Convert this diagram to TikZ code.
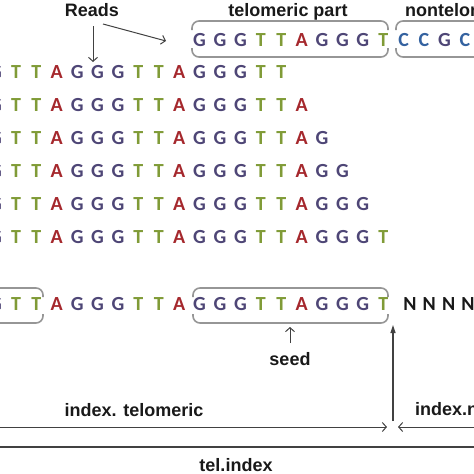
\documentclass[tikz,border=0pt]{standalone}
\usepackage{fontspec}
\setmainfont{Liberation Sans}
\newfontfamily\seqfont{Carlito}
\usetikzlibrary{arrows.meta}
\definecolor{colG}{RGB}{78,70,118}
\definecolor{colT}{RGB}{128,155,55}
\definecolor{colA}{RGB}{165,40,45}
\definecolor{colC}{RGB}{52,98,160}
\definecolor{colN}{RGB}{25,25,25}
\definecolor{brk}{RGB}{150,150,150}
\definecolor{arrc}{RGB}{65,65,65}
\begin{document}
\begin{tikzpicture}[x=1pt,y=-1pt,
  nt/.style={font=\seqfont\bfseries\fontsize{20}{22}\selectfont, inner sep=0pt, anchor=base},
  lab/.style={font=\bfseries\fontsize{18}{20}\selectfont, inner sep=0pt, anchor=base, text=black!90},
  bracket/.style={draw=brk, line width=1.6pt, rounded corners=7pt},
  tip/.style={draw=arrc, line width=1pt, -{Straight Barb[length=4pt,width=9pt]}},
  rule/.style={draw=arrc, line width=1.2pt},
]
\useasboundingbox (0,0) rectangle (474,474);
\clip (0,0) rectangle (474,474);

% top row: telomeric + nontelomeric part
\foreach \ch [count=\i from 10] in {G,G,G,T,T,A,G,G,G,T,C,C,G,C} {
  \pgfmathsetmacro{\xx}{-4.4+20.4*\i}
  \node[nt, text=col\ch] (top-\i) at (\xx,46.5) {\ch};
}

% reads
\foreach \yy/\lst [count=\r] in {
  72/{G,T,T,A,G,G,G,T,T,A,G,G,G,T,T},
  105/{G,T,T,A,G,G,G,T,T,A,G,G,G,T,T,A},
  138/{G,T,T,A,G,G,G,T,T,A,G,G,G,T,T,A,G},
  171/{G,T,T,A,G,G,G,T,T,A,G,G,G,T,T,A,G,G},
  204/{G,T,T,A,G,G,G,T,T,A,G,G,G,T,T,A,G,G,G},
  237/{G,T,T,A,G,G,G,T,T,A,G,G,G,T,T,A,G,G,G,T},
  304/{G,T,T,A,G,G,G,T,T,A,G,G,G,T,T,A,G,G,G,T}} {
  \foreach \ch [count=\i from 0] in \lst {
    \pgfmathsetmacro{\xx}{-4.4+20.4*\i}
    \node[nt, text=col\ch] (s\r-\i) at (\xx,\yy+6.5) {\ch};
  }
}
\foreach \k in {0,1,2,3} {
  \node[nt, text=colN] (n-\k) at (410+19.3*\k,310.5) {N};
}

% brackets
\draw[bracket] (192,30) -- (192,21) -- (388,21) -- (388,30);
\draw[bracket] (192,48) -- (192,57) -- (388,57) -- (388,48);
\draw[bracket] (396,30) -- (396,21) -- (490,21) -- (490,30);
\draw[bracket] (396,48) -- (396,57) -- (490,57) -- (490,48);
\draw[bracket] (-20,288) -- (43,288) -- (43,297);
\draw[bracket] (-20,323) -- (43,323) -- (43,314);
\draw[bracket] (193,297) -- (193,288) -- (388,288) -- (388,297);
\draw[bracket] (193,314) -- (193,323) -- (388,323) -- (388,314);

% labels
\node[lab] (reads) at (92,16) {Reads};
\node[lab] (telpart) at (288,16) {telomeric part};
\node[lab, anchor=base west] (nontel) at (405,16) {nontelomeric part};
\node[lab] (seed) at (290,365) {seed};
\node[lab] (idxtel) at (134,416) {index. telomeric};
\node[lab, anchor=base west] (idxnon) at (415,415) {index.nontelomeric};
\node[lab] (telidx) at (236,471) {tel.index};

% arrows
\coordinate (rd1) at (93,26);
\coordinate (rd1e) at (93,62);
\coordinate (rd2) at (103,24);
\coordinate (rd2e) at (166,41);
\draw[tip] (rd1) -- (rd1e);
\draw[tip] (rd2) -- (rd2e);
\coordinate (sd) at (290,343);
\coordinate (sde) at (290,327);
\draw[tip] (sd) -- (sde);
\coordinate (lv) at (393,421);
\coordinate (lve) at (393,325);
\draw[draw=arrc, line width=1.2pt, -{Triangle[length=8pt,width=5pt]}] (lv) -- (lve);
\coordinate (it0) at (-5,427);
\coordinate (it1) at (387,427);
\coordinate (in0) at (480,427);
\coordinate (in1) at (398,427);
\draw[tip] (it0) -- (it1);
\draw[tip] (in0) -- (in1);
\coordinate (ti0) at (-5,447);
\coordinate (ti1) at (480,447);
\draw[rule] (ti0) -- (ti1);
\end{tikzpicture}
\end{document}
